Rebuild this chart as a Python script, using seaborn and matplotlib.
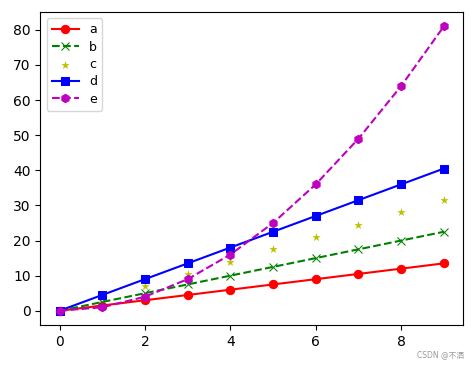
import matplotlib
matplotlib.use("Agg")
import matplotlib.pyplot as plt
import seaborn as sns
import pandas as pd

x = [0, 1, 2, 3, 4, 5, 6, 7, 8, 9]
a = [0, 1.5, 3, 4.5, 6, 7.5, 9, 10.5, 12, 13.5]
b = [0, 2.5, 5, 7.5, 10, 12.5, 15, 17.5, 20, 22.5]
c = [0, 3.5, 7, 10.5, 14, 17.5, 21, 24.5, 28, 31.5]
d = [0, 4.5, 9, 13.5, 18, 22.5, 27, 31.5, 36, 40.5]
e = [0, 1, 4, 9, 16, 25, 36, 49, 64, 81]

df = pd.DataFrame({"x": x, "a": a, "b": b, "c": c, "d": d, "e": e})

plt.rcParams['font.family'] = ['DejaVu Sans', 'Noto Sans CJK SC']

fig, ax = plt.subplots(figsize=(4.74, 3.66), dpi=100)
fig.subplots_adjust(left=0.085, right=0.977, top=0.967, bottom=0.112)

sns.lineplot(data=df, x="x", y="a", color="r", marker="o", linestyle="-", label="a", ax=ax,
             markeredgecolor="r")
sns.lineplot(data=df, x="x", y="b", color="g", marker="x", linestyle="--", label="b", ax=ax,
             markeredgecolor="g")
sns.scatterplot(data=df, x="x", y="c", color="y", marker="*", s=40, label="c", ax=ax,
                edgecolor="y", linewidth=0)
sns.lineplot(data=df, x="x", y="d", color="b", marker="s", linestyle="-", label="d", ax=ax,
             markeredgecolor="b")
sns.lineplot(data=df, x="x", y="e", color="m", marker="h", linestyle="--", label="e", ax=ax,
             markeredgecolor="m")

ax.set_xlabel("")
ax.set_ylabel("")
ax.set_xticks([0, 2, 4, 6, 8])
ax.set_yticks([0, 10, 20, 30, 40, 50, 60, 70, 80])
ax.legend(loc="upper left", fontsize=9, labelspacing=0.35, handlelength=2.2)

fig.text(0.978, 0.02, "CSDN @不洒", ha="right", va="bottom", fontsize=5.5, color="#999999")

plt.savefig("out.png", dpi=100)
